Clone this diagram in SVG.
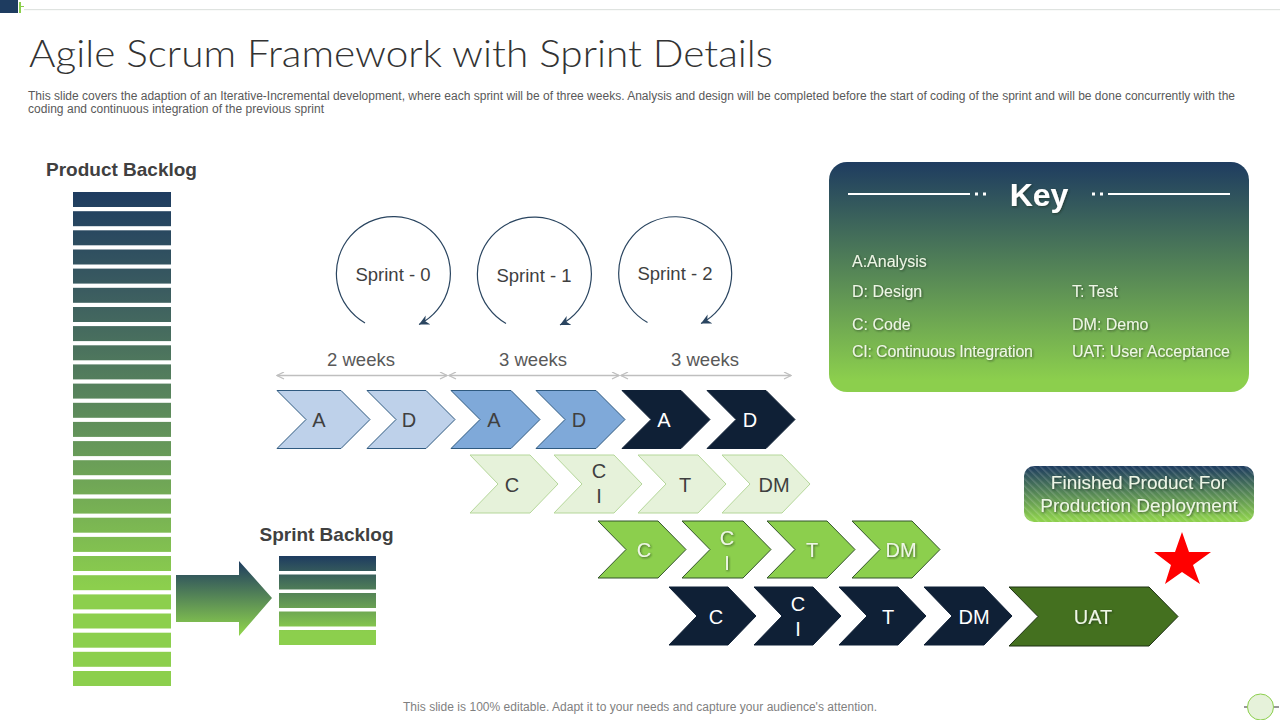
<svg xmlns="http://www.w3.org/2000/svg" width="1280" height="720" viewBox="0 0 1280 720">
<style>
text{font-family:"Liberation Sans",Arial,sans-serif}
.t{text-anchor:middle;font-size:20px}
.sp{text-anchor:middle;font-size:18.500px}
.dk{fill:#3f3f3f}
.lt{fill:#ffffff}
.pale{fill:#eef6e6;filter:url(#sh)}
.head{font-size:19px;font-weight:700;fill:#404040;text-anchor:middle}
.wk{font-size:18.500px;fill:#595959;text-anchor:middle}
.keyt{font-size:16px;fill:#eef6e6;filter:url(#sh)}
.sub{font-size:12px;fill:#595959}
.lb{fill:#bed1ea;stroke:#2f5a80}
.mb{fill:#7fa9d9;stroke:#2f5a80}
.nv{fill:#0f2036;stroke:#0f2036}
.lg{fill:#e6f2da;stroke:#b5d79a}
.gr{fill:#8ccf4d;stroke:#33552a}
.cyc{fill:none;stroke:#2a4560;stroke-width:1.2;marker-end:url(#ah)}
.dim{fill:none;stroke:#bfbfbf;stroke-width:1.3;marker-start:url(#gs);marker-end:url(#ge)}
</style>
<defs>
<linearGradient id="gBar" gradientUnits="userSpaceOnUse" x1="0" y1="192" x2="0" y2="686">
<stop offset="0" stop-color="#1e3c60"/><stop offset="0.2" stop-color="#3b5c60"/><stop offset="0.5" stop-color="#64955a"/><stop offset="0.8" stop-color="#8ccf4d"/><stop offset="1" stop-color="#8ccf4d"/>
</linearGradient>
<linearGradient id="gSb" gradientUnits="userSpaceOnUse" x1="0" y1="556" x2="0" y2="645">
<stop offset="0" stop-color="#1e3c60"/><stop offset="0.85" stop-color="#8ccf4d"/><stop offset="1" stop-color="#8ccf4d"/>
</linearGradient>
<linearGradient id="gV" x1="0" y1="0" x2="0" y2="1">
<stop offset="0" stop-color="#1e3c60"/><stop offset="0.95" stop-color="#8ccf4d"/><stop offset="1" stop-color="#8ccf4d"/>
</linearGradient>
<pattern id="hatch" patternUnits="userSpaceOnUse" width="5" height="5" patternTransform="rotate(-45)">
<rect width="1.500" height="5" fill="#ffffff" fill-opacity="0.16"/>
</pattern>
<filter id="sh" x="-10%" y="-30%" width="120%" height="170%">
<feDropShadow dx="1" dy="1" stdDeviation="0.8" flood-color="#1c2c1c" flood-opacity="0.65"/>
</filter>
<marker id="ah" markerUnits="userSpaceOnUse" markerWidth="12" markerHeight="12" refX="10" refY="5" orient="auto">
<path d="M0,0 L10,5 L0,10 L3,5 Z" fill="#2a4560"/>
</marker>
<marker id="ge" markerUnits="userSpaceOnUse" markerWidth="9" markerHeight="8" refX="8" refY="4" orient="auto">
<path d="M1,0.5 L8,4 L1,7.5" fill="none" stroke="#bfbfbf" stroke-width="1.3"/>
</marker>
<marker id="gs" markerUnits="userSpaceOnUse" markerWidth="9" markerHeight="8" refX="1" refY="4" orient="auto">
<path d="M8,0.5 L1,4 L8,7.5" fill="none" stroke="#bfbfbf" stroke-width="1.3"/>
</marker>
</defs>
<rect width="1280" height="720" fill="#ffffff"/>
<g id="chrome">
<rect x="0" y="0" width="18" height="13" fill="#1e3c60"/>
<rect x="19" y="2" width="2" height="11" fill="#8ccf4d"/>
<rect x="21" y="6" width="3" height="1" fill="#8ccf4d"/>
<rect x="24" y="9" width="1256" height="1.2" fill="#dfe3e0"/>
<path d="M1244,707H1247M1274,707H1279" stroke="#333333" stroke-width="1"/>
<circle cx="1260.5" cy="707" r="13" fill="#e6f2da" stroke="#8ccf4d"/>
</g>
<text x="29" y="67" font-size="38" fill="#333333" textLength="744" lengthAdjust="spacingAndGlyphs" style="font-family:Lato,'Liberation Sans',sans-serif;font-weight:300">Agile Scrum Framework with Sprint Details</text>
<text class="sub" x="28" y="100" textLength="1207">This slide covers the adaption of an Iterative-Incremental development, where each sprint will be of three weeks. Analysis and design will be completed before the start of coding of the sprint and will be done concurrently with the</text>
<text class="sub" x="28" y="113" textLength="296">coding and continuous integration of the previous sprint</text>
<text x="403" y="711" font-size="12" fill="#7f7f7f" textLength="474">This slide is 100% editable. Adapt it to your needs and capture your audience's attention.</text>

<g id="product-backlog">
<text class="head" x="121.500" y="176">Product Backlog</text>
<g fill="url(#gBar)">
<rect x="73" y="192" width="98" height="15"/><rect x="73" y="211.200" width="98" height="15"/><rect x="73" y="230.300" width="98" height="15"/><rect x="73" y="249.500" width="98" height="15"/><rect x="73" y="268.600" width="98" height="15"/><rect x="73" y="287.800" width="98" height="15"/><rect x="73" y="307" width="98" height="15"/><rect x="73" y="326.100" width="98" height="15"/><rect x="73" y="345.300" width="98" height="15"/><rect x="73" y="364.400" width="98" height="15"/><rect x="73" y="383.600" width="98" height="15"/><rect x="73" y="402.800" width="98" height="15"/><rect x="73" y="421.900" width="98" height="15"/><rect x="73" y="441.100" width="98" height="15"/><rect x="73" y="460.200" width="98" height="15"/><rect x="73" y="479.400" width="98" height="15"/><rect x="73" y="498.600" width="98" height="15"/><rect x="73" y="517.700" width="98" height="15"/><rect x="73" y="536.900" width="98" height="15"/><rect x="73" y="556" width="98" height="15"/><rect x="73" y="575.200" width="98" height="15"/><rect x="73" y="594.400" width="98" height="15"/><rect x="73" y="613.500" width="98" height="15"/><rect x="73" y="632.700" width="98" height="15"/><rect x="73" y="651.800" width="98" height="15"/><rect x="73" y="671" width="98" height="15"/>
</g>
</g>
<g id="sprint-backlog">
<text class="head" x="326.500" y="541">Sprint Backlog</text>
<g fill="url(#gSb)">
<rect x="279" y="556" width="97" height="15"/><rect x="279" y="574.500" width="97" height="15"/><rect x="279" y="593" width="97" height="15"/><rect x="279" y="611.500" width="97" height="15"/><rect x="279" y="630" width="97" height="15"/>
</g>
</g>
<g id="connectors">
<polygon points="176,575 239,575 239,561 272,598 239,636 239,622 176,622" fill="url(#gV)"/>
<path class="cyc" d="M365,323 A57,57 0 1 1 419,324.500"/>
<path class="cyc" d="M506,323.500 A57,57 0 1 1 560,325"/>
<path class="cyc" d="M647.500,322.500 A56.500,56.500 0 1 1 701,323.500"/>
<path class="dim" d="M277,375.500H447"/>
<path class="dim" d="M449,375.500H619"/>
<path class="dim" d="M621,375.500H791"/>
</g>
<g id="sprint-0"><text class="sp dk" x="393" y="281">Sprint - 0</text></g>
<g id="sprint-1"><text class="sp dk" x="534" y="282">Sprint - 1</text></g>
<g id="sprint-2"><text class="sp dk" x="675" y="280">Sprint - 2</text></g>
<text class="wk" x="361" y="366">2 weeks</text>
<text class="wk" x="533" y="366">3 weeks</text>
<text class="wk" x="705" y="366">3 weeks</text>

<g id="r1-a0"><polygon class="lb" points="277,390.500 341,390.500 370,419.500 341,448.500 277,448.500 306,419.500"/><text class="t dk" x="319" y="427">A</text></g>
<g id="r1-d0"><polygon class="lb" points="367,390.500 426,390.500 455,419.500 426,448.500 367,448.500 396,419.500"/><text class="t dk" x="409" y="427">D</text></g>
<g id="r1-a1"><polygon class="mb" points="451,390.500 511,390.500 540,419.500 511,448.500 451,448.500 480,419.500"/><text class="t dk" x="494" y="427">A</text></g>
<g id="r1-d1"><polygon class="mb" points="536,390.500 596,390.500 625,419.500 596,448.500 536,448.500 565,419.500"/><text class="t dk" x="579" y="427">D</text></g>
<g id="r1-a2"><polygon class="nv" points="622,390.500 681,390.500 710,419.500 681,448.500 622,448.500 651,419.500"/><text class="t lt" x="664" y="427">A</text></g>
<g id="r1-d2"><polygon class="nv" points="707,390.500 766,390.500 795,419.500 766,448.500 707,448.500 736,419.500"/><text class="t lt" x="750" y="427">D</text></g>

<g id="r2-c"><polygon class="lg" points="470,455 530,455 558,484 530,513 470,513 498,484"/><text class="t dk" x="512" y="492">C</text></g>
<g id="r2-ci"><polygon class="lg" points="554,455 614,455 642,484 614,513 554,513 582,484"/><text class="t dk" x="599" y="478">C</text><text class="t dk" x="599" y="503">I</text></g>
<g id="r2-t"><polygon class="lg" points="638,455 698,455 726,484 698,513 638,513 666,484"/><text class="t dk" x="685" y="492">T</text></g>
<g id="r2-dm"><polygon class="lg" points="722,455 782,455 810,484 782,513 722,513 750,484"/><text class="t dk" x="774" y="492">DM</text></g>

<g id="r3-c"><polygon class="gr" points="598,521 658,521 686,549.500 658,578 598,578 626,549.500"/><text class="t pale" x="644" y="557">C</text></g>
<g id="r3-ci"><polygon class="gr" points="682,521 743,521 771,549.500 743,578 682,578 710,549.500"/><text class="t pale" x="727" y="545">C</text><text class="t pale" x="727" y="570">I</text></g>
<g id="r3-t"><polygon class="gr" points="767,521 827,521 855,549.500 827,578 767,578 795,549.500"/><text class="t pale" x="812" y="557">T</text></g>
<g id="r3-dm"><polygon class="gr" points="852,521 912,521 940,549.500 912,578 852,578 880,549.500"/><text class="t pale" x="901" y="557">DM</text></g>

<g id="r4-c"><polygon class="nv" points="669,587 728,587 756,616 728,645 669,645 697,616"/><text class="t lt" x="716" y="624">C</text></g>
<g id="r4-ci"><polygon class="nv" points="754,587 813,587 841,616 813,645 754,645 782,616"/><text class="t lt" x="798" y="611">C</text><text class="t lt" x="798" y="636">I</text></g>
<g id="r4-t"><polygon class="nv" points="839,587 898,587 926,616 898,645 839,645 867,616"/><text class="t lt" x="888" y="624">T</text></g>
<g id="r4-dm"><polygon class="nv" points="924,587 984,587 1012,616 984,645 924,645 952,616"/><text class="t lt" x="974" y="624">DM</text></g>
<g id="r4-uat"><polygon fill="#44701f" stroke="#1d3013" points="1009,587 1149,587 1178,616.500 1149,646 1009,646 1038,616.500"/><text class="t pale" x="1093" y="624">UAT</text></g>

<g id="key">
<rect x="829" y="162" width="420" height="230" rx="18" fill="url(#gV)"/>
<path d="M848,194H970M1108,194H1230" stroke="#ffffff" stroke-width="1.800"/>
<path d="M975,192.500h3v3h-3zM983,192.500h3v3h-3zM1092,192.500h3v3h-3zM1100,192.500h3v3h-3z" fill="#ffffff"/>
<text x="1039" y="206" font-size="32" font-weight="700" fill="#ffffff" text-anchor="middle" style="filter:url(#sh)">Key</text>
<text class="keyt" x="852" y="267">A:Analysis</text>
<text class="keyt" x="852" y="297">D: Design</text>
<text class="keyt" x="852" y="330">C: Code</text>
<text class="keyt" x="852" y="357" textLength="181">CI: Continuous Integration</text>
<text class="keyt" x="1072" y="297">T: Test</text>
<text class="keyt" x="1072" y="330">DM: Demo</text>
<text class="keyt" x="1072" y="357" textLength="158">UAT: User Acceptance</text>
</g>
<g id="finished-product">
<rect x="1024" y="466" width="230" height="56" rx="10" fill="url(#gV)"/>
<rect x="1024" y="466" width="230" height="56" rx="10" fill="url(#hatch)"/>
<text class="pale" x="1139" y="489" font-size="19" text-anchor="middle">Finished Product For</text>
<text class="pale" x="1139" y="512" font-size="19" text-anchor="middle">Production Deployment</text>
</g>
<g id="star"><polygon points="1182,532 1189,552 1211,552 1193,565 1200,584 1182,572 1165,584 1171,565 1154,552 1175,552" fill="#ff0000"/></g>
</svg>
